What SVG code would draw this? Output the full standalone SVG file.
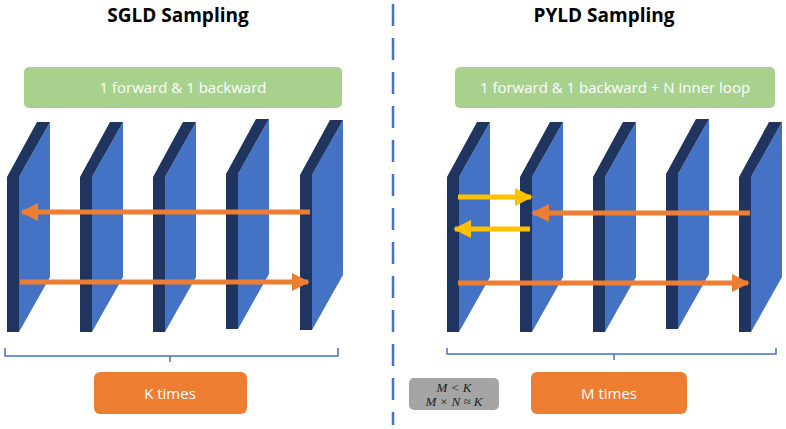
<svg xmlns="http://www.w3.org/2000/svg" width="786" height="429" viewBox="0 0 786 429">
<style>
.face{fill:#4472c4}.dark{fill:#1f3560}
.t{font-family:"Open Sans","Liberation Sans",sans-serif}
.title{font-size:19px;font-weight:bold;fill:#000}
.lbl{font-size:15px;fill:#fff}
.math{font-family:"Liberation Serif",serif;font-style:italic;font-size:13px;fill:#222}
.or{stroke:#ed7d31;stroke-width:5;fill:none}
.ye{stroke:#ffc000;stroke-width:5;fill:none}
.br{stroke:#4472c4;stroke-width:1.5;fill:none}
</style>
<defs>
<g id="plate"><polygon class="face" points="12,55 43,0 43,155 12,210"/><polygon class="dark" points="0,55 30,0 43,0 12,55"/><rect class="dark" x="0" y="55" width="12" height="155"/></g>
<marker id="ao" viewBox="0 0 10 10" refX="9" refY="5" markerWidth="3.6" markerHeight="3.6" orient="auto"><path d="M0,0L10,5L0,10z" fill="#ed7d31"/></marker>
<marker id="ay" viewBox="0 0 10 10" refX="9" refY="5" markerWidth="3.6" markerHeight="3.6" orient="auto"><path d="M0,0L10,5L0,10z" fill="#ffc000"/></marker>
</defs>
<text class="t title" x="178" y="22" text-anchor="middle">SGLD Sampling</text>
<text class="t title" x="604" y="22" text-anchor="middle">PYLD Sampling</text>
<line x1="393" y1="4" x2="393" y2="425" stroke="#4472c4" stroke-width="2.5" stroke-dasharray="22,12"/>
<g id="boxL"><rect x="24" y="67" width="318" height="41" rx="5" fill="#a9d18e"/><text class="t lbl" x="183" y="93" text-anchor="middle">1 forward &amp; 1 backward</text></g>
<g id="boxR"><rect x="455" y="67" width="320" height="41" rx="5" fill="#a9d18e"/><text class="t lbl" x="615" y="93" text-anchor="middle">1 forward &amp; 1 backward + N inner loop</text></g>
<g id="platesL">
<use href="#plate" x="7" y="122"/><use href="#plate" x="80" y="122"/><use href="#plate" x="153" y="122"/><use href="#plate" x="226" y="119"/><use href="#plate" x="300" y="120"/>
</g>
<g id="platesR">
<use href="#plate" x="447" y="122"/><use href="#plate" x="520" y="122"/><use href="#plate" x="593" y="122"/><use href="#plate" x="666" y="119"/><use href="#plate" x="739" y="122"/>
</g>
<g id="connectors">
<line class="or" x1="310" y1="212" x2="22" y2="212" marker-end="url(#ao)"/>
<line class="or" x1="20" y1="282" x2="308" y2="282" marker-end="url(#ao)"/>
<line class="or" x1="750" y1="213" x2="533" y2="213" marker-end="url(#ao)"/>
<line class="or" x1="458" y1="283" x2="748" y2="283" marker-end="url(#ao)"/>
<line class="ye" x1="458" y1="197" x2="531" y2="197" marker-end="url(#ay)"/>
<line class="ye" x1="530" y1="229" x2="455" y2="229" marker-end="url(#ay)"/>
</g>
<path class="br" d="M5,348V356H338V348M170,356V362"/>
<path class="br" d="M447,348V354H776V348M614,354V360"/>
<g id="kTimes"><rect x="94" y="372" width="153" height="42" rx="6" fill="#ed7d31"/><text class="t lbl" x="170" y="399" text-anchor="middle">K times</text></g>
<g id="mTimes"><rect x="531" y="372" width="156" height="42" rx="6" fill="#ed7d31"/><text class="t lbl" x="609" y="399" text-anchor="middle">M times</text></g>
<g id="cond"><rect x="409" y="378" width="90" height="32" rx="5" fill="#a5a5a5"/><text class="math" x="454" y="392" text-anchor="middle">M &lt; K</text><text class="math" x="454" y="406" text-anchor="middle">M × N ≈ K</text></g>
</svg>
